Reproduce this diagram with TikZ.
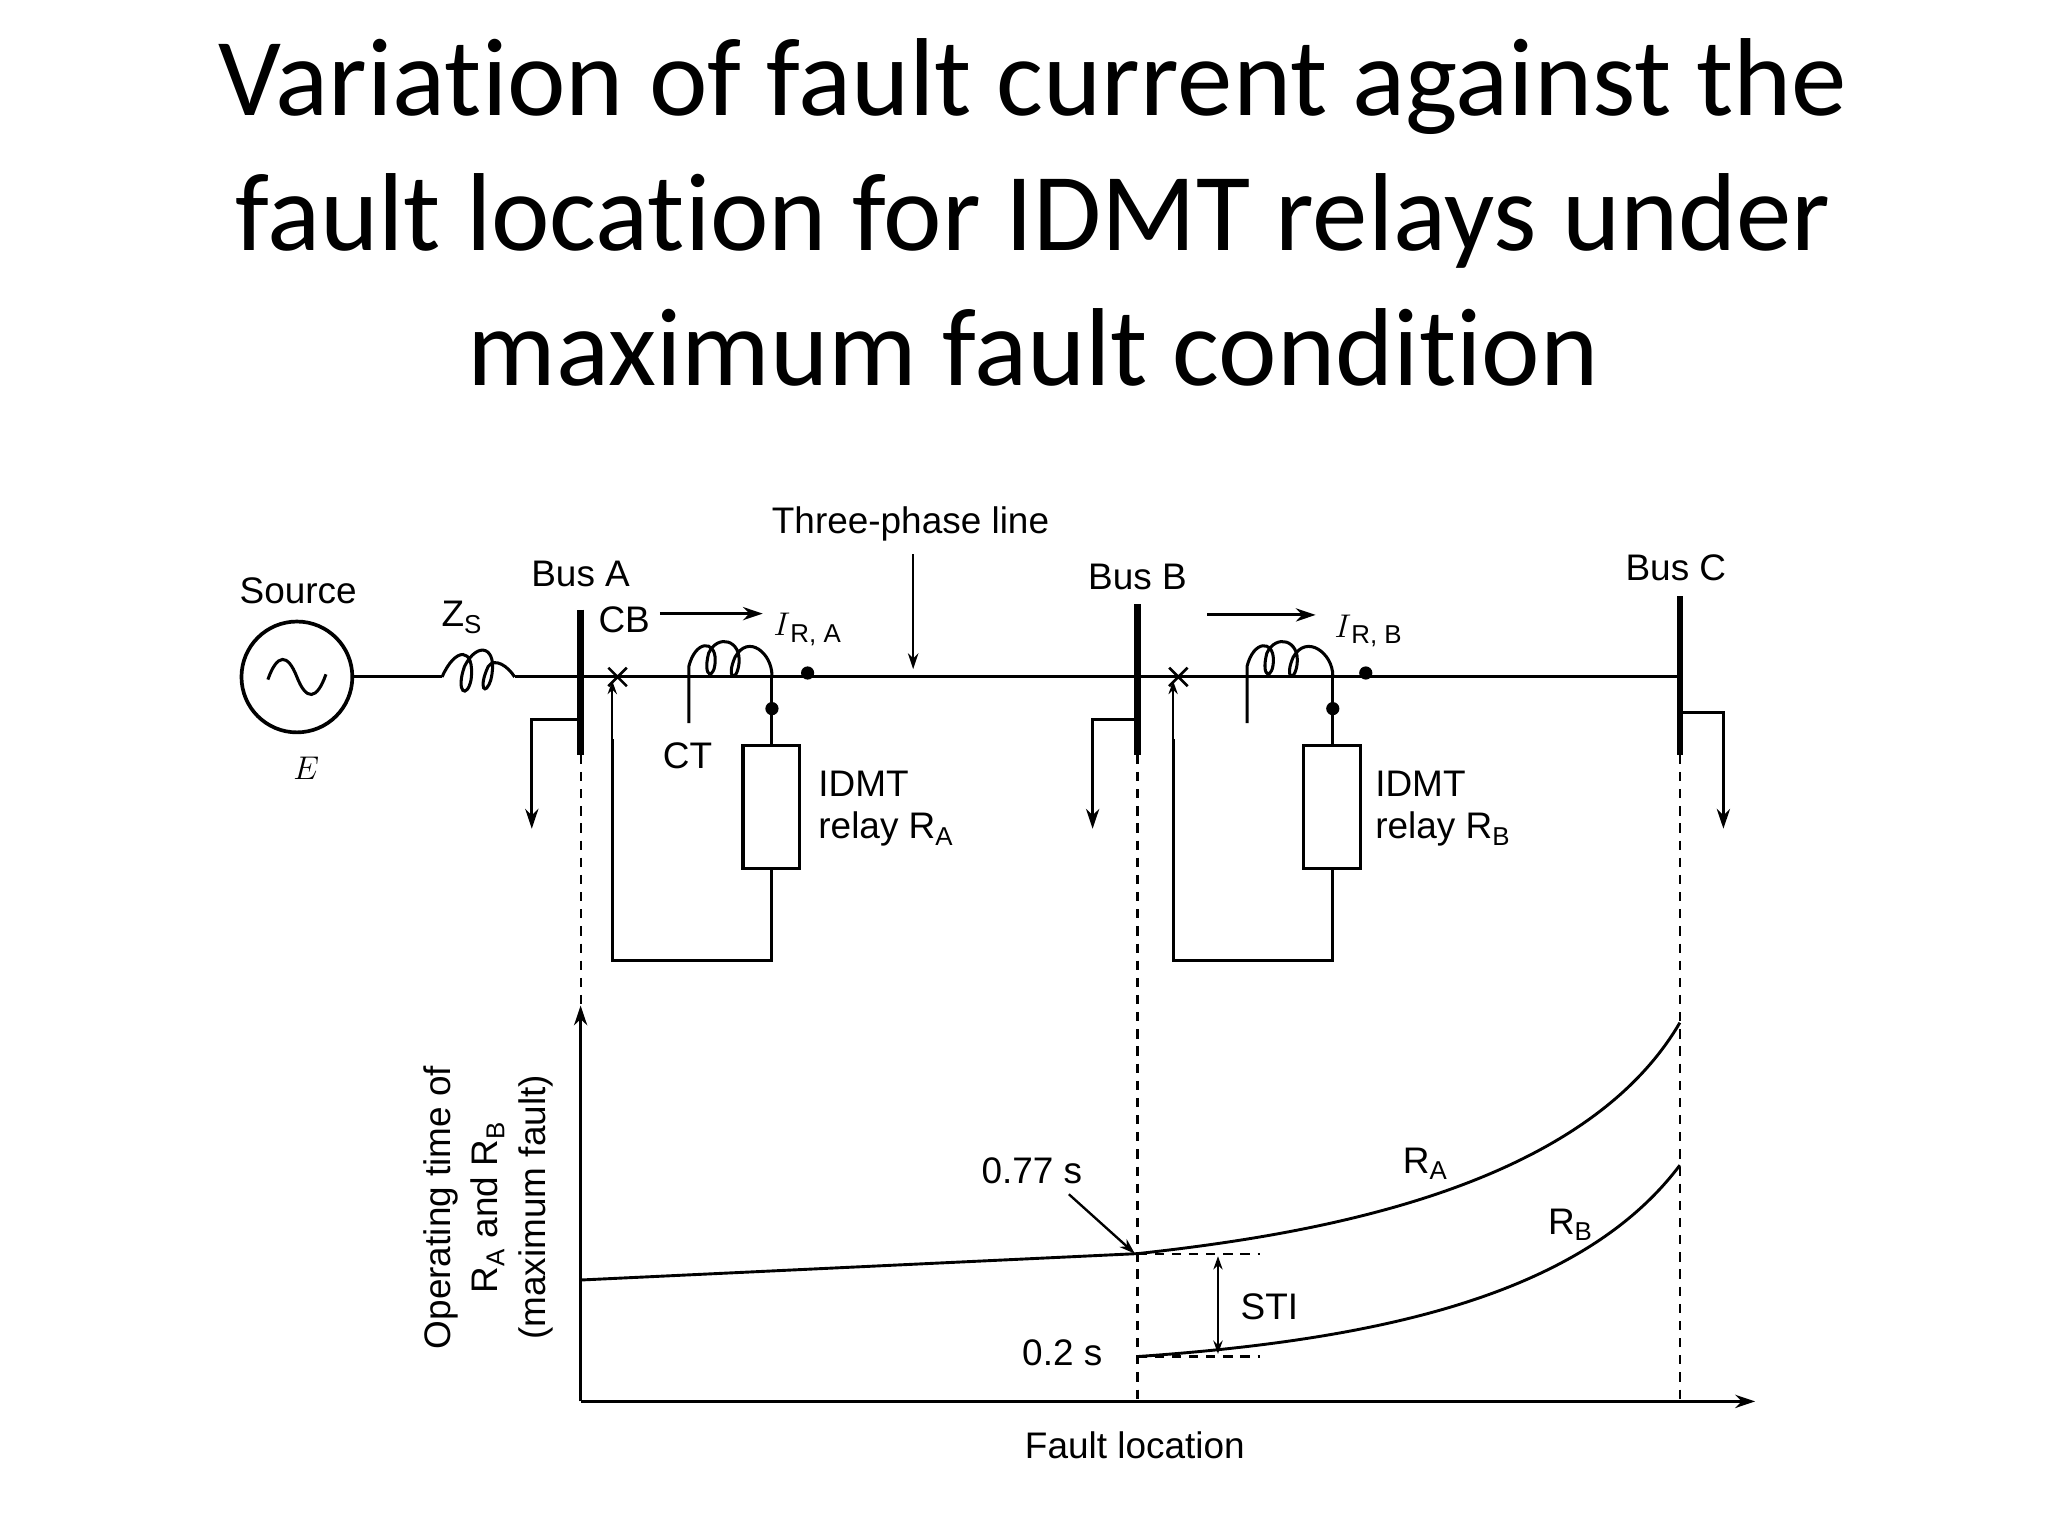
\documentclass[tikz,border=0pt]{standalone}
\usepackage{fontspec}
\setmainfont{Liberation Sans}
\newfontfamily\titlefont{Carlito}[Ligatures={NoCommon}]
\usetikzlibrary{arrows.meta}
\begin{document}
\begin{tikzpicture}[x=1pt,y=-1pt,
  wire/.style={line width=2.3pt},
  bus/.style={line width=5pt},
  dashl/.style={line width=1.6pt,dash pattern=on 7pt off 6pt},
  arr/.style={line width=2.2pt,-{Stealth[length=15pt,width=10pt]}},
  lbl/.style={font=\fontsize{28}{32}\selectfont,inner sep=0pt},
  dot/.style={circle,fill=black,inner sep=0pt,minimum size=10pt}]
\useasboundingbox (0,0) rectangle (1552,1164);
% title
\node[font=\titlefont\fontsize{84}{102}\selectfont,align=center,anchor=north] (title) at (783,26)
 {Variation of fault current against the\\fault location for IDMT relays under\\maximum fault condition};
% source
\node[circle,draw,line width=2.8pt,minimum size=84pt,inner sep=0pt] (src) at (225,513) {};
\draw[line width=2.3pt] (203,515) .. controls (210,495) and (218,495) .. (225,513) .. controls (232,531) and (240,531) .. (247,511);
\node[lbl] (srcl) at (226,448) {Source};
\node[lbl] (el) at (232,582) {$E$};
\node[lbl] (zs) at (350,468) {Z\textsubscript{S}};
% main line
\coordinate (zs1) at (335,513); \coordinate (zs2) at (390,513);
\draw[wire] (src.east) -- (zs1);
\draw[wire] (zs1) .. controls (345,490) and (360,490) .. (357,515) .. controls (354,530) and (345,525) .. (352,505)
  .. controls (362,485) and (378,490) .. (372,515) .. controls (368,528) and (362,522) .. (370,505) .. controls (375,498) and (385,505) .. (zs2);
\draw[wire] (zs2) -- (1273,513);
% buses
\draw[bus] (440,462) -- (440,572); \draw[dashl] (440,572) -- (440,1062);
\draw[bus] (862,458) -- (862,572); \draw[dashl] (862,572) -- (862,1062);
\draw[bus] (1273,452) -- (1273,572); \draw[dashl] (1273,572) -- (1273,1062);
\node[lbl] (ba) at (440,435) {Bus A};
\node[lbl] (bb) at (862,437) {Bus B};
\node[lbl] (bc) at (1270,430) {Bus C};
% loads
\draw[arr] (440,545) -- (403,545) -- (403,628);
\draw[arr] (862,545) -- (828,545) -- (828,628);
\draw[arr] (1273,540) -- (1306,540) -- (1306,628);
% three-phase line
\node[lbl] (tpl) at (690,397) {Three-phase line};
\draw[line width=1.3pt,-{Stealth[length=12pt,width=8pt]}] (692,420) -- (692,507);
% relays
\foreach \bx/\cx/\rx/\ilx in {468/522/585/612, 893/945/1010/1035}{
  \draw[line width=2pt] (\bx-7,506) -- (\bx+7,520) (\bx-7,520) -- (\bx+7,506);
  \draw[line width=1.8pt,-{Stealth[length=10pt,width=7pt]}] (\bx-4,560) -- (\bx-4,516);
  \draw[wire] (\cx,548) -- (\cx,505) .. controls (\cx+5,485) and (\cx+20,485) .. (\cx+20,500) .. controls (\cx+20,515) and (\cx+10,515) .. (\cx+15,495)
    .. controls (\cx+22,480) and (\cx+40,485) .. (\cx+38,503) .. controls (\cx+36,518) and (\cx+28,514) .. (\cx+35,498) .. controls (\cx+45,480) and (\rx,495) .. (\rx,512);
  \node[dot] at (\ilx,510) {};
  \node[dot] at (\rx,537) {};
  \draw[wire] (\rx,512) -- (\rx,565);
  \draw[line width=2.6pt] (\rx-22,565) rectangle (\rx+21,658);
  \draw[wire] (\rx,658) -- (\rx,728) -- (\bx-4,728) -- (\bx-4,560);
}
\node[lbl] (cb) at (473,470) {CB};
\draw[arr] (500,465) -- (578,465);
\node[lbl] (ira) at (612,477) {$I$\textsubscript{R, A}};
\node[lbl] (ct) at (521,573) {CT};
\node[lbl,align=left,anchor=west] (ra) at (620,613) {IDMT\\relay R\textsubscript{A}};
\draw[arr] (915,466) -- (997,466);
\node[lbl] (irb) at (1037,478) {$I$\textsubscript{R, B}};
\node[lbl,align=left,anchor=west] (rb) at (1042,613) {IDMT\\relay R\textsubscript{B}};
% graph
\draw[arr] (440,1062) -- (440,762);
\draw[arr] (440,1062) -- (1330,1062);
\draw[line width=2.2pt] (440,970) -- (862,950) .. controls (1000,935) and (1200,900) .. (1273,775);
\draw[line width=2.2pt] (862,1028) .. controls (1050,1015) and (1200,980) .. (1273,883);
\draw[dashl] (862,950) -- (955,950);
\draw[dashl] (862,1028) -- (955,1028);
\draw[line width=1.8pt,{Stealth[length=10pt,width=7pt]}-{Stealth[length=10pt,width=7pt]}] (923,952) -- (923,1026);
\node[lbl] (sti) at (962,990) {STI};
\node[lbl] (t77) at (782,887) {0.77 s};
\draw[line width=1.8pt,-{Stealth[length=12pt,width=8pt]}] (810,905) -- (860,950);
\node[lbl] (t2) at (805,1025) {0.2 s};
\node[lbl] (lra) at (1080,882) {R\textsubscript{A}};
\node[lbl] (lrb) at (1190,928) {R\textsubscript{B}};
\node[lbl] (fl) at (860,1095) {Fault location};
\node[lbl,rotate=90,align=center] (yl) at (370,915) {Operating time of\\[4pt]R\textsubscript{A} and R\textsubscript{B}\\[4pt](maximum fault)};
\end{tikzpicture}
\end{document}
